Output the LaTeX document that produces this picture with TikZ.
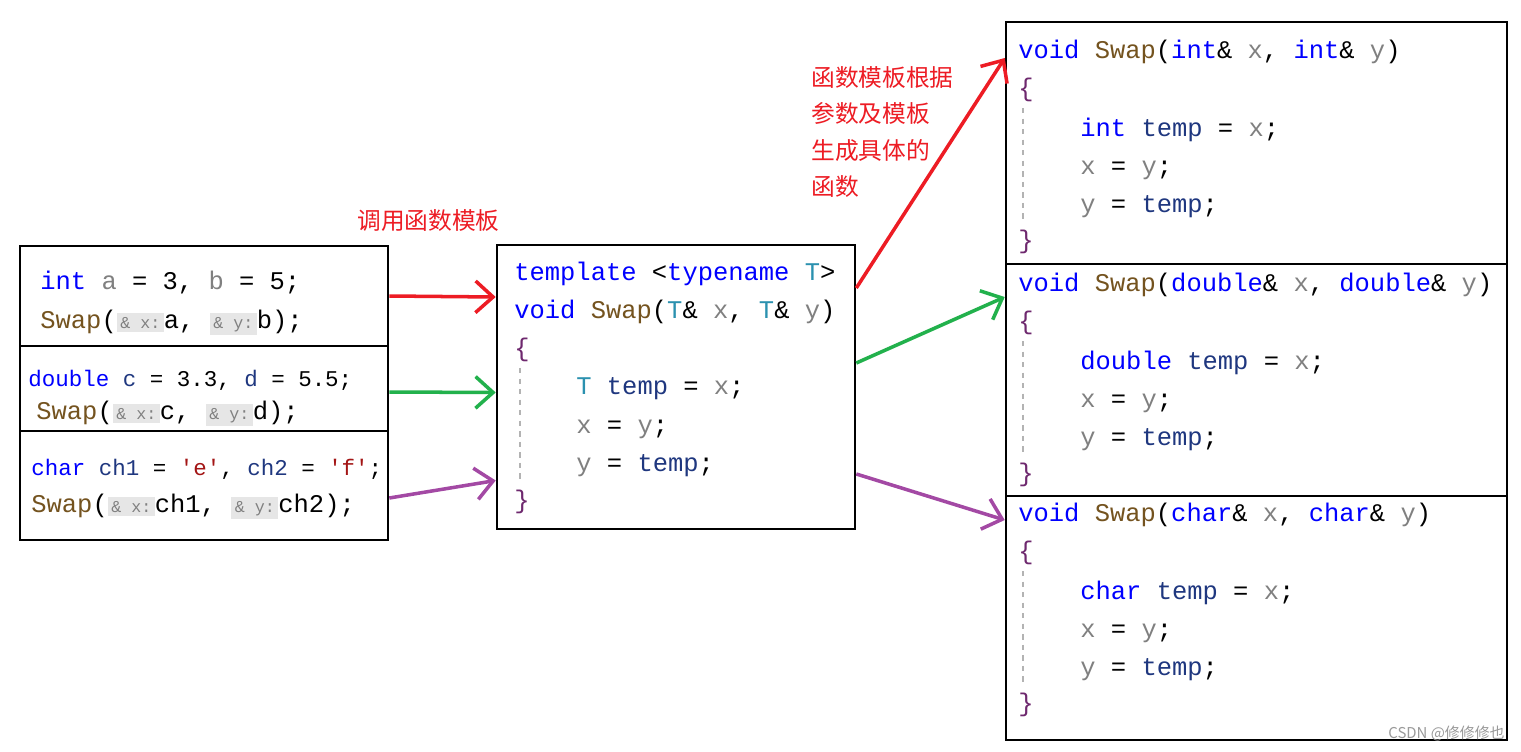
\documentclass[tikz,border=0pt]{standalone}
\usepackage{fontspec}
\setmonofont{Liberation Mono}
\newfontfamily\cjk{Noto Sans CJK SC}
\usetikzlibrary{arrows.meta, positioning}
\definecolor{kwblue}{RGB}{0,0,255}
\definecolor{fnbrown}{RGB}{116,83,31}
\definecolor{prgrey}{RGB}{128,128,128}
\definecolor{vrnavy}{RGB}{31,55,127}
\definecolor{tyteal}{RGB}{43,145,175}
\definecolor{brpurple}{RGB}{110,40,110}
\definecolor{strred}{RGB}{163,21,21}
\definecolor{hintbg}{RGB}{230,230,230}
\definecolor{arred}{RGB}{237,28,36}
\definecolor{argreen}{RGB}{34,177,76}
\definecolor{arpurple}{RGB}{163,73,164}
\newcommand{\kw}[1]{\textcolor{kwblue}{#1}}
\newcommand{\fn}[1]{\textcolor{fnbrown}{#1}}
\newcommand{\pr}[1]{\textcolor{prgrey}{#1}}
\newcommand{\vr}[1]{\textcolor{vrnavy}{#1}}
\newcommand{\ty}[1]{\textcolor{tyteal}{#1}}
\newcommand{\br}[1]{\textcolor{brpurple}{#1}}
\newcommand{\hint}[1]{{\setlength\fboxsep{2pt}\colorbox{hintbg}{\fontsize{9.5}{10}\selectfont\textcolor{prgrey}{#1}}}}
\tikzset{
  codebox/.style={draw, line width=1.5pt, inner sep=0pt},
  code/.style={anchor=base west, inner sep=0pt, font=\ttfamily\fontsize{14.5}{17}\selectfont},
  small code/.style={code, font=\ttfamily\fontsize{12.8}{15}\selectfont},
  note/.style={text=arred, font=\cjk\fontsize{13.5}{16}\selectfont, inner sep=0pt, anchor=west},
  guide/.style={dashed, prgrey!60, line width=1pt},
  arr/.style={-{Straight Barb[length=10pt,width=18pt]}, line width=2pt}
}
\begin{document}
\begin{tikzpicture}[x=0.02cm,y=-0.02cm]
\useasboundingbox[fill=white] (0,0) rectangle (1521,751);

% call sites
\node (call1) [codebox, minimum width=7.36cm, minimum height=2cm] at (204,296) {};
\node (call2) [codebox, minimum width=7.36cm, minimum height=1.7cm] at (204,388.5) {};
\node (call3) [codebox, minimum width=7.36cm, minimum height=2.18cm] at (204,485.5) {};
\node (c1a) [code] at (40,289) {\kw{int} \pr{a} = 3, \pr{b} = 5;};
\node (c1b) [code] at (40,328) {\fn{Swap}(\hint{\& x:}a, \hint{\& y:}b);};
\node (c2a) [small code] at (28,386) {\kw{double} \vr{c} = 3.3, \vr{d} = 5.5;};
\node (c2b) [code] at (36,419) {\fn{Swap}(\hint{\& x:}c, \hint{\& y:}d);};
\node (c3a) [small code] at (31,475) {\kw{char} \vr{ch1} = \textcolor{strred}{'e'}, \vr{ch2} = \textcolor{strred}{'f'};};
\node (c3b) [code] at (31,512) {\fn{Swap}(\hint{\& x:}ch1, \hint{\& y:}ch2);};

% template
\node (tmpl) [codebox, minimum width=7.16cm, minimum height=5.68cm] at (676,387) {};
\node [code] at (514,280) {\kw{template} <\kw{typename} \ty{T}>};
\node [code] at (514,318) {\kw{void} \fn{Swap}(\ty{T}\& \pr{x}, \ty{T}\& \pr{y})};
\node [code] at (514,356) {\br{\{}};
\node [code] at (576,394) {\ty{T} \vr{temp} = \pr{x};};
\node [code] at (576,433) {\pr{x} = \pr{y};};
\node [code] at (576,471) {\pr{y} = \vr{temp};};
\node [code] at (514,508) {\br{\}}};
\draw [guide] (520,368) -- (520,482);

% instances
\node (inst1) [codebox, minimum width=10.02cm, minimum height=4.84cm] at (1256.5,143) {};
\node (inst2) [codebox, minimum width=10.02cm, minimum height=4.64cm] at (1256.5,380) {};
\node (inst3) [codebox, minimum width=10.02cm, minimum height=4.88cm] at (1256.5,618) {};
\foreach \ty/\y in {int/0, double/233, char/463} {
  \node [code] at (1018,58+\y) {\kw{void} \fn{Swap}(\kw{\ty}\& \pr{x}, \kw{\ty}\& \pr{y})};
  \node [code] at (1018,96+\y) {\br{\{}};
  \node [code] at (1080,136+\y) {\kw{\ty} \vr{temp} = \pr{x};};
  \node [code] at (1080,174+\y) {\pr{x} = \pr{y};};
  \node [code] at (1080,212+\y) {\pr{y} = \vr{temp};};
  \node [code] at (1018,248+\y) {\br{\}}};
  \draw [guide] (1023,108+\y) -- (1023,222+\y);
}

% labels
\node (callnote) [note] at (357,221) {调用函数模板};
\node (gennote) [note, align=left, text width=3.2cm, font=\cjk\fontsize{13.5}{20.5}\selectfont] at (811,132) {函数模板根据\\参数及模板\\生成具体的\\函数};
\node (mark) [anchor=east, inner sep=0pt, text=prgrey!80, font=\cjk\fontsize{8.5}{10}\selectfont] at (1505,733) {CSDN @修修修也};

% arrows
\draw [arr, arred] (call1.east) -- ([yshift=-0.02cm]tmpl.west |- call1.east);
\draw [arr, argreen] ([yshift=-0.07cm]call2.east) -- ([yshift=-0.08cm]tmpl.west |- call2.east);
\draw [arr, arpurple] ([yshift=-0.25cm]call3.east) -- ([yshift=0.1cm]tmpl.west |- call3.east);
\draw [arr, arred] ([yshift=1.98cm]tmpl.east) -- ([yshift=1.7cm]inst1.west);
\draw [arr, argreen] ([yshift=0.48cm]tmpl.east) -- ([yshift=1.66cm]inst2.west);
\draw [arr, arpurple] ([yshift=-1.74cm]tmpl.east) -- ([yshift=1.96cm]inst3.west);
\end{tikzpicture}
\end{document}
